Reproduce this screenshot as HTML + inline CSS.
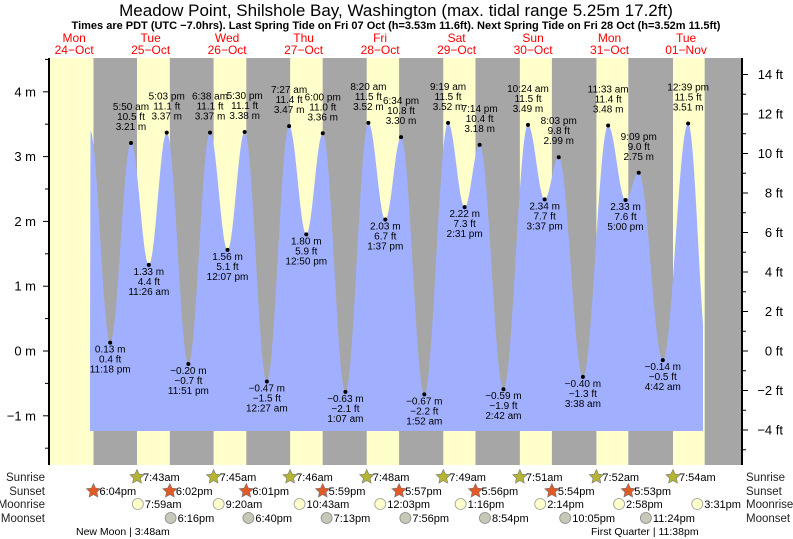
<!DOCTYPE html>
<html><head><meta charset="utf-8"><style>
html,body{margin:0;padding:0;background:#fff}
svg{display:block;font-family:"Liberation Sans",sans-serif}
</style></head><body>
<svg id="s" width="793" height="539" xmlns="http://www.w3.org/2000/svg"></svg>
<script>
const S=document.getElementById('s');
const X0=112.4,PX=3.187;
const X=t=>X0+t*PX;
const Y=m=>351-64.8*m;
let h='';
h+='<rect x="49" y="58" width="693" height="407" fill="#ffffcc"/>';
const sets=[-5.93,18.03,42.02,65.98,89.95,113.93,137.9,161.88,185.85];
const rises=[7.72,31.75,55.77,79.8,103.82,127.85,151.87,175.9,200];
for(let i=0;i<sets.length;i++){let a=X(sets[i]),b=Math.min(X(rises[i]),742);h+=`<rect x="${a}" y="58" width="${b-a}" height="407" fill="#a6a6a6"/>`;}
const ex=[[-7,3.4],[-0.7,0.13,'11:18 pm'],[5.83,3.21,'5:50 am'],[11.43,1.33,'11:26 am'],[17.05,3.37,'5:03 pm'],[23.85,-0.20,'11:51 pm'],[30.63,3.37,'6:38 am'],[36.12,1.56,'12:07 pm'],[41.5,3.38,'5:30 pm'],[48.45,-0.47,'12:27 am'],[55.45,3.47,'7:27 am'],[60.83,1.80,'12:50 pm'],[66,3.36,'6:00 pm'],[73.12,-0.63,'1:07 am'],[80.33,3.52,'8:20 am'],[85.62,2.03,'1:37 pm'],[90.57,3.30,'6:34 pm'],[97.87,-0.67,'1:52 am'],[105.32,3.52,'9:19 am'],[110.52,2.22,'2:31 pm'],[115.23,3.18,'7:14 pm'],[122.7,-0.59,'2:42 am'],[130.4,3.49,'10:24 am'],[135.62,2.34,'3:37 pm'],[140.05,2.99,'8:03 pm'],[147.63,-0.40,'3:38 am'],[155.55,3.48,'11:33 am'],[161,2.33,'5:00 pm'],[165.15,2.75,'9:09 pm'],[172.7,-0.14,'4:42 am'],[180.65,3.51,'12:39 pm'],[187,-0.2]];
function lv(t){for(let i=0;i<ex.length-1;i++){const [a,ha]=ex[i],[b,hb]=ex[i+1];if(t>=a&&t<=b){const f=(t-a)/(b-a);return ha+(hb-ha)*(1-Math.cos(Math.PI*f))/2;}}return 0;}
const xs=90,xe=703;let p=`M${xs},431`;
for(let x=xs;x<=xe;x+=0.5){p+=` L${x},${Y(lv((x-X0)/PX)).toFixed(2)}`;}
p+=` L${xe},431 Z`;
h+=`<path d="${p}" fill="#a0b0ff"/>`;
h+='<line x1="49" y1="58" x2="49" y2="465" stroke="#000" stroke-width="2"/><line x1="742" y1="58" x2="742" y2="465" stroke="#000" stroke-width="2"/>';
for(let m=-1.5;m<=4.51;m+=0.5){const y=Y(m),maj=Math.abs(m-Math.round(m))<0.01;h+=`<line x1="${maj?43:45}" y1="${y}" x2="49" y2="${y}" stroke="#000"/>`;if(maj)h+=`<text x="36" y="${y+4.5}" font-size="13" text-anchor="end">${m<0?'\u2212'+(-m):m} m</text>`;}
for(let f=-5;f<=14;f++){const y=351-f*0.3048*64.8;if(y<58)continue;h+=`<line x1="742" y1="${y}" x2="${f%2==0?748:746}" y2="${y}" stroke="#000"/>`;if(f%2==0)h+=`<text x="783" y="${y+4.5}" font-size="13" text-anchor="end">${f<0?'\u2212'+(-f):f} ft</text>`;}
const fm=v=>(v<0?'\u2212':'')+Math.abs(v).toFixed(2);
const ff=v=>(v<0?'\u2212':'')+Math.abs(v).toFixed(1);
for(let i=1;i<ex.length-1;i++){const [t,m,lab]=ex[i];const x=X(t),y=Y(m),ft=m/0.3048;const hi=m>ex[i-1][1];
h+=`<circle cx="${x}" cy="${y}" r="2" fill="#000"/>`;
const L=hi?[[lab,-33],[ff(ft)+' ft',-23],[fm(m)+' m',-13]]:[[fm(m)+' m',10],[ff(ft)+' ft',20],[lab,30]];
for(const [s,d] of L)h+=`<text x="${x}" y="${y+d}" font-size="10" text-anchor="middle">${s}</text>`;}
h+='<text x="396" y="16" font-size="17" text-anchor="middle">Meadow Point, Shilshole Bay, Washington (max. tidal range 5.25m 17.2ft)</text>';
h+='<text x="396" y="29" font-size="11" font-weight="bold" text-anchor="middle">Times are PDT (UTC \u22127.0hrs). Last Spring Tide on Fri 07 Oct (h=3.53m 11.6ft). Next Spring Tide on Fri 28 Oct (h=3.52m 11.5ft)</text>';
const days=[['Mon','24\u2212Oct'],['Tue','25\u2212Oct'],['Wed','26\u2212Oct'],['Thu','27\u2212Oct'],['Fri','28\u2212Oct'],['Sat','29\u2212Oct'],['Sun','30\u2212Oct'],['Mon','31\u2212Oct'],['Tue','01\u2212Nov']];
days.forEach((d,i)=>{const x=X(i*24-12);h+=`<text x="${x}" y="42" font-size="12" fill="#ff0000" text-anchor="middle">${d[0]}</text><text x="${x}" y="54" font-size="12" fill="#ff0000" text-anchor="middle">${d[1]}</text>`;});
const rows=[['Sunrise',481],['Sunset',495],['Moonrise',508],['Moonset',522]];
rows.forEach(r=>{h+=`<text x="45" y="${r[1]}" font-size="11.5" text-anchor="end" fill="#222">${r[0]}</text><text x="746" y="${r[1]}" font-size="11.5" fill="#222">${r[0]}</text>`;});
function star(cx,cy,fill){let pts=[];for(let k=0;k<10;k++){const r=k%2?3.6:7.5,a=-Math.PI/2+k*Math.PI/5;pts.push((cx+r*Math.cos(a)).toFixed(1)+','+(cy+r*Math.sin(a)).toFixed(1));}return `<polygon points="${pts.join(' ')}" fill="${fill}" stroke="#777" stroke-width="0.6"/>`;}
const sr=['7:43am','7:45am','7:46am','7:48am','7:49am','7:51am','7:52am','7:54am'];
sr.forEach((s,i)=>{const x=X(rises[i]);h+=star(x,477,'#b5b535')+`<text x="${x+6}" y="481" font-size="11">${s}</text>`;});
const ss=['6:04pm','6:02pm','6:01pm','5:59pm','5:57pm','5:56pm','5:54pm','5:53pm'];
ss.forEach((s,i)=>{const x=X(sets[i]);h+=star(x,491,'#e05a28')+`<text x="${x+6}" y="495" font-size="11">${s}</text>`;});
const mr=[[7.98,'7:59am'],[33.33,'9:20am'],[58.72,'10:43am'],[84.05,'12:03pm'],[109.27,'1:16pm'],[134.23,'2:14pm'],[158.97,'2:58pm'],[183.52,'3:31pm']];
mr.forEach(([t,s])=>{const x=X(t);h+=`<circle cx="${x}" cy="504" r="5.5" fill="#ffffcc" stroke="#999" stroke-width="0.8"/><text x="${x+7}" y="508" font-size="11">${s}</text>`;});
const ms=[[18.27,'6:16pm'],[42.67,'6:40pm'],[67.22,'7:13pm'],[91.93,'7:56pm'],[116.9,'8:54pm'],[142.08,'10:05pm'],[167.4,'11:24pm']];
ms.forEach(([t,s])=>{const x=X(t);h+=`<circle cx="${x}" cy="518" r="5.5" fill="#c8c8b8" stroke="#888" stroke-width="0.8"/><text x="${x+7}" y="522" font-size="11">${s}</text>`;});
h+='<text x="76" y="535" font-size="10.5">New Moon | 3:48am</text><text x="591" y="535" font-size="10.5">First Quarter | 11:38pm</text>';
S.innerHTML=h;
</script>
</body></html>
